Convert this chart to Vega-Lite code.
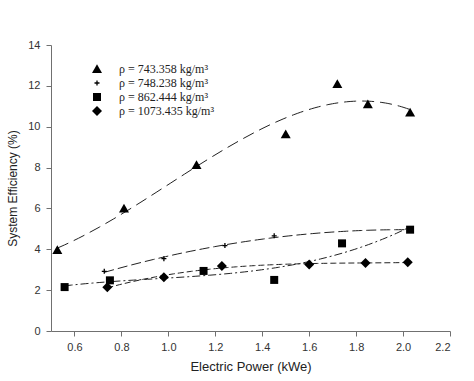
{
  "$schema": "https://vega.github.io/schema/vega-lite/v6.json",
  "width": 399,
  "height": 286,
  "autosize": {"type": "none"},
  "padding": {"left": 51, "top": 45, "right": 24, "bottom": 50},
  "background": "white",
  "config": {
    "view": {"stroke": null},
    "axis": {
      "grid": false,
      "domainColor": "#707070",
      "tickColor": "#707070",
      "tickSize": 5,
      "labelFont": "Liberation Sans",
      "labelFontSize": 11,
      "labelColor": "#333333",
      "titleFont": "Liberation Sans",
      "titleFontWeight": "normal",
      "titleColor": "#222222"
    }
  },
  "data": {
    "values": [
      {"series": "ρ = 743.358 kg/m³", "power": 0.527, "eff": 3.96},
      {"series": "ρ = 743.358 kg/m³", "power": 0.811, "eff": 6.0},
      {"series": "ρ = 743.358 kg/m³", "power": 1.12, "eff": 8.12},
      {"series": "ρ = 743.358 kg/m³", "power": 1.5, "eff": 9.63},
      {"series": "ρ = 743.358 kg/m³", "power": 1.72, "eff": 12.09},
      {"series": "ρ = 743.358 kg/m³", "power": 1.85, "eff": 11.1},
      {"series": "ρ = 743.358 kg/m³", "power": 2.03, "eff": 10.69},
      {"series": "ρ = 748.238 kg/m³", "power": 0.727, "eff": 2.92},
      {"series": "ρ = 748.238 kg/m³", "power": 0.981, "eff": 3.54},
      {"series": "ρ = 748.238 kg/m³", "power": 1.241, "eff": 4.18},
      {"series": "ρ = 748.238 kg/m³", "power": 1.451, "eff": 4.66},
      {"series": "ρ = 748.238 kg/m³", "power": 2.033, "eff": 4.94},
      {"series": "ρ = 862.444 kg/m³", "power": 0.558, "eff": 2.15},
      {"series": "ρ = 862.444 kg/m³", "power": 0.751, "eff": 2.48},
      {"series": "ρ = 862.444 kg/m³", "power": 1.15, "eff": 2.94},
      {"series": "ρ = 862.444 kg/m³", "power": 1.451, "eff": 2.5},
      {"series": "ρ = 862.444 kg/m³", "power": 1.74, "eff": 4.29},
      {"series": "ρ = 862.444 kg/m³", "power": 2.03, "eff": 4.96},
      {"series": "ρ = 1073.435 kg/m³", "power": 0.74, "eff": 2.14},
      {"series": "ρ = 1073.435 kg/m³", "power": 0.981, "eff": 2.63},
      {"series": "ρ = 1073.435 kg/m³", "power": 1.228, "eff": 3.18},
      {"series": "ρ = 1073.435 kg/m³", "power": 1.6, "eff": 3.26},
      {"series": "ρ = 1073.435 kg/m³", "power": 1.84, "eff": 3.33},
      {"series": "ρ = 1073.435 kg/m³", "power": 2.02, "eff": 3.36}
    ]
  },
  "encoding": {
    "x": {
      "field": "power", "type": "quantitative",
      "scale": {"domain": [0.5, 2.2], "nice": false, "zero": false},
      "axis": {"values": [0.6, 0.8, 1.0, 1.2, 1.4, 1.6, 1.8, 2.0, 2.2], "format": ".1f", "title": "Electric Power (kWe)", "titleFontSize": 13, "titlePadding": 8, "labelPadding": 5}
    },
    "y": {
      "field": "eff", "type": "quantitative",
      "scale": {"domain": [0, 14], "nice": false},
      "axis": {"values": [0, 2, 4, 6, 8, 10, 12, 14], "title": "System Efficiency (%)", "titleFontSize": 12, "titlePadding": 8, "labelPadding": 6}
    }
  },
  "layer": [
    {
      "transform": [
        {"filter": "datum.series === 'ρ = 743.358 kg/m³'"},
        {"regression": "eff", "on": "power", "method": "poly", "order": 3}
      ],
      "mark": {"type": "line", "color": "#222222", "strokeWidth": 1, "strokeDash": [12, 6]}
    },
    {
      "transform": [
        {"filter": "datum.series === 'ρ = 748.238 kg/m³'"},
        {"regression": "eff", "on": "power", "method": "poly", "order": 2}
      ],
      "mark": {"type": "line", "color": "#222222", "strokeWidth": 1, "strokeDash": [10, 4]}
    },
    {
      "transform": [
        {"filter": "datum.series === 'ρ = 862.444 kg/m³'"},
        {"regression": "eff", "on": "power", "method": "poly", "order": 3}
      ],
      "mark": {"type": "line", "color": "#222222", "strokeWidth": 1, "strokeDash": [8, 3, 2, 3]}
    },
    {
      "transform": [
        {"filter": "datum.series === 'ρ = 1073.435 kg/m³'"},
        {"regression": "eff", "on": "power", "method": "poly", "order": 3}
      ],
      "mark": {"type": "line", "color": "#222222", "strokeWidth": 1, "strokeDash": [6, 3]}
    },
    {
      "mark": {"type": "point", "filled": true, "color": "black", "opacity": 1, "size": 100},
      "encoding": {
        "shape": {
          "field": "series", "type": "nominal",
          "scale": {
            "domain": ["ρ = 743.358 kg/m³", "ρ = 748.238 kg/m³", "ρ = 862.444 kg/m³", "ρ = 1073.435 kg/m³"],
            "range": [
              "M0,-0.95L1,0.8L-1,0.8Z",
              "M-0.5,-0.13H-0.13V-0.5H0.13V-0.13H0.5V0.13H0.13V0.5H-0.13V0.13H-0.5Z",
              "M-0.8,-0.8H0.8V0.8H-0.8Z",
              "M0,-1L1,0L0,1L-1,0Z"
            ]
          },
          "legend": {
            "title": null, "orient": "none", "legendX": 40, "legendY": 18,
            "labelFont": "Liberation Serif", "labelFontSize": 12, "labelColor": "#222222",
            "symbolFillColor": "black", "symbolStrokeColor": "black", "symbolSize": 100, "symbolStrokeWidth": 0,
            "rowPadding": 2, "labelOffset": 16, "padding": 0
          }
        }
      }
    }
  ]
}
